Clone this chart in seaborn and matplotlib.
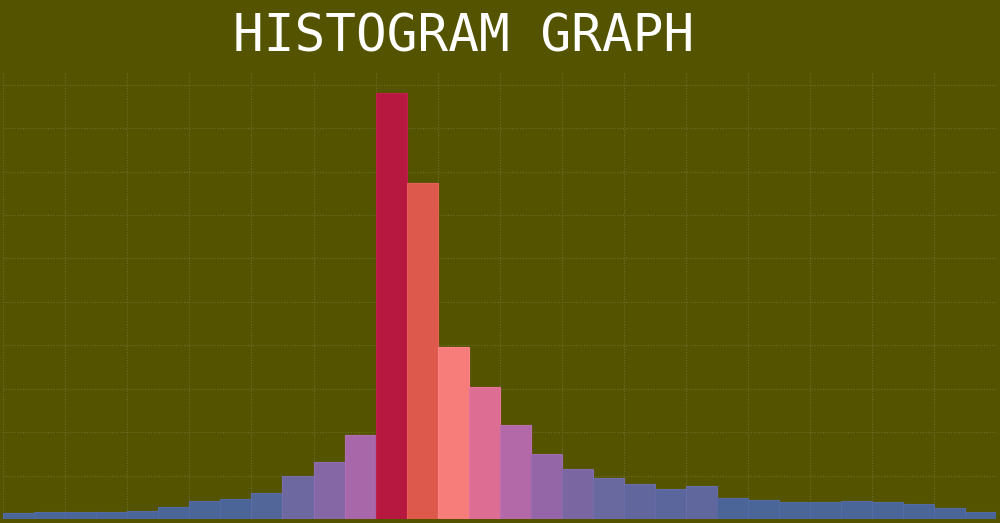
import numpy as np
import pandas as pd
import matplotlib
matplotlib.use("Agg")
import matplotlib.pyplot as plt
from matplotlib.colors import LinearSegmentedColormap
import seaborn as sns

# ---- data ----
bins = [f"b{i:02d}" for i in range(32)]
counts = [0.14, 0.175, 0.175, 0.175, 0.20, 0.29, 0.43, 0.47, 0.60, 1.00,
          1.31, 1.94, 9.81, 7.74, 3.96, 3.05, 2.16, 1.50, 1.16, 0.95,
          0.81, 0.70, 0.77, 0.49, 0.44, 0.39, 0.39, 0.41, 0.39, 0.35,
          0.26, 0.175]
title = "HISTOGRAM GRAPH"

# ---- style ----
BG = "#545400"
sns.set_style("white")
plt.rcParams["font.family"] = ["DejaVu Sans Mono", "DejaVu Sans"]

vmax = max(counts)
nodes = [(0.0, "#4A6598"), (0.45, "#4A6598"), (1.0, "#6E68A0"), (1.5, "#9466A8"),
         (2.1, "#B068A8"), (3.0, "#DC6C94"), (4.0, "#F87E7A"), (7.7, "#DE5A4B"),
         (vmax, "#B71840")]
cmap = LinearSegmentedColormap.from_list("heat", [(v / vmax, c) for v, c in nodes])
colors = [cmap(v / vmax) for v in counts]

df = pd.DataFrame({"bin": bins, "count": counts})

fig = plt.figure(figsize=(10, 5.23), dpi=100, facecolor=BG)
ax = fig.add_axes([0.0033, (523 - 519.3) / 523, 0.9927, (519.3 - 71.5) / 523])
ax.set_facecolor(BG)

sns.barplot(data=df, x="bin", y="count", hue="bin", palette=colors, legend=False,
            width=1.0, saturation=1, ax=ax, zorder=3)

for patch, c in zip(ax.patches, colors):
    r, g, b, _ = c
    patch.set_facecolor((r, g, b, 1.0))
    patch.set_edgecolor((min(1, r + 0.04), min(1, g + 0.02), min(1, b + 0.05), 1))
    patch.set_linewidth(0.8)

ax.set_xlim(-0.5, 31.5)
ax.set_ylim(0, vmax * 1.05)
ax.set_xticks(np.arange(-0.5, 32, 2))
ax.set_yticks(np.arange(0, 11, 1))
ax.grid(True, color="#6e6e2c", linestyle=(0, (1, 1.5)), linewidth=0.8, zorder=0)
ax.set_axisbelow(True)
ax.tick_params(length=0, labelbottom=False, labelleft=False)
ax.set_xlabel("")
ax.set_ylabel("")
for s in ax.spines.values():
    s.set_visible(False)

fig.text(0.464, 1 - 52 / 523, title, color="white", fontsize=36.7,
         ha="center", va="baseline", family=["DejaVu Sans Mono"])

fig.savefig("out.png", dpi=100, facecolor=BG)
